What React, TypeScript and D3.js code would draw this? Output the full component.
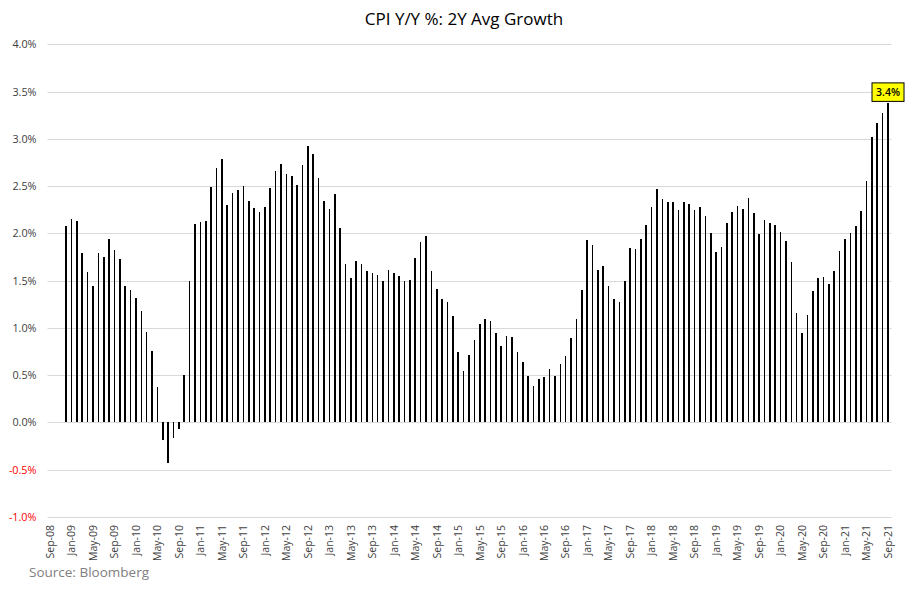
import { useMemo } from 'react';
import * as d3 from 'd3';

const WIDTH = 914;
const HEIGHT = 589;
const FONT = '"Open Sans", "Noto Sans", sans-serif';

// Monthly categories on the axis: Sep-08 .. Sep-21
const FIRST_MONTH = new Date(2008, 8, 1);
const LAST_MONTH = new Date(2021, 8, 1);

// First month with a value
const VALUES_START = new Date(2008, 11, 1);

// 2Y avg CPI Y/Y growth (%), Dec-08 .. Sep-21
const v2008 = [2.08];
const v2009 = [2.15, 2.13, 1.79, 1.59, 1.445, 1.79, 1.75, 1.94, 1.825, 1.73, 1.445, 1.4];
const v2010 = [1.32, 1.18, 0.96, 0.75, 0.37, -0.19, -0.43, -0.165, -0.07, 0.5, 1.49, 2.1];
const v2011 = [2.12, 2.125, 2.49, 2.69, 2.79, 2.3, 2.43, 2.46, 2.5, 2.34, 2.27, 2.23];
const v2012 = [2.28, 2.48, 2.66, 2.735, 2.63, 2.61, 2.51, 2.725, 2.925, 2.84, 2.58, 2.34];
const v2013 = [2.26, 2.42, 2.06, 1.68, 1.53, 1.71, 1.68, 1.6, 1.58, 1.56, 1.5, 1.61];
const v2014 = [1.58, 1.55, 1.49, 1.51, 1.74, 1.91, 1.97, 1.6, 1.41, 1.31, 1.275, 1.13];
const v2015 = [0.74, 0.545, 0.715, 0.87, 1.04, 1.095, 1.07, 0.94, 0.81, 0.915, 0.905, 0.74];
const v2016 = [0.64, 0.49, 0.385, 0.46, 0.48, 0.56, 0.49, 0.62, 0.7, 0.89, 1.095, 1.4];
const v2017 = [1.93, 1.88, 1.61, 1.655, 1.44, 1.31, 1.275, 1.5, 1.845, 1.835, 1.94, 2.09];
const v2018 = [2.28, 2.47, 2.36, 2.33, 2.33, 2.245, 2.33, 2.31, 2.245, 2.28, 2.18, 2.0];
const v2019 = [1.8, 1.855, 2.11, 2.225, 2.29, 2.26, 2.37, 2.21, 1.99, 2.14, 2.11, 2.09];
const v2020 = [2.01, 1.92, 1.7, 1.16, 0.95, 1.14, 1.39, 1.53, 1.54, 1.465, 1.6, 1.81];
const v2021 = [1.94, 2.0, 2.08, 2.24, 2.55, 3.02, 3.165, 3.27, 3.38];

const VALUES = [
  ...v2008, ...v2009, ...v2010, ...v2011, ...v2012, ...v2013, ...v2014,
  ...v2015, ...v2016, ...v2017, ...v2018, ...v2019, ...v2020, ...v2021,
];

const Y_TICKS = [-1, -0.5, 0, 0.5, 1, 1.5, 2, 2.5, 3, 3.5, 4];
const LAST_LABEL = '3.4%';

const fmtMonth = d3.timeFormat('%b-%y');

export default function App() {
  const months = useMemo(
    () => d3.timeMonth.range(FIRST_MONTH, d3.timeMonth.offset(LAST_MONTH, 1)).map(fmtMonth),
    []
  );

  const bars = useMemo(() => {
    const start = d3.timeMonth.range(VALUES_START, d3.timeMonth.offset(LAST_MONTH, 1));
    return start.map((d, i) => ({ month: fmtMonth(d), value: VALUES[i] }));
  }, []);

  const x = d3.scaleBand<string>().domain(months).range([47.3, 890.7]).padding(0);
  const y = d3.scaleLinear().domain([-1, 4]).range([516.8, 44.3]);

  const barW = 1.6;
  const last = bars[bars.length - 1];
  const lastX = x(last.month)! + x.bandwidth() / 2;
  const lastY = y(last.value);

  return (
    <svg
      width={WIDTH}
      height={HEIGHT}
      style={{ position: 'absolute', left: 0, top: 0, background: '#fff' }}
      fontFamily={FONT}
    >
      <rect x={0} y={0} width={WIDTH} height={HEIGHT} fill="#fff" />

      {/* Title */}
      <text x={464} y={25} textAnchor="middle" fontSize={17} fill="#000">
        CPI Y/Y %: 2Y Avg Growth
      </text>

      {/* Gridlines + y labels */}
      {Y_TICKS.map((t) => (
        <g key={t}>
          <line
            x1={47.5}
            x2={891.5}
            y1={Math.round(y(t)) + 0.5}
            y2={Math.round(y(t)) + 0.5}
            stroke="#d9d9d9"
            strokeWidth={1}
          />
          <text
            x={36.5}
            y={y(t) + 4}
            textAnchor="end"
            fontSize={10.8}
            fill={t < 0 ? '#ff0000' : '#404040'}
          >
            {t.toFixed(1)}%
          </text>
        </g>
      ))}

      {/* Bars */}
      {bars.map((d) => {
        const cx = x(d.month)! + x.bandwidth() / 2;
        const y0 = y(0);
        const y1 = y(d.value);
        return (
          <rect
            key={d.month}
            x={cx - barW / 2}
            y={Math.min(y0, y1)}
            width={barW}
            height={Math.abs(y1 - y0)}
            fill="#000"
            shapeRendering="crispEdges"
          />
        );
      })}

      {/* X labels every 4 months */}
      {months.map((m, i) =>
        i % 4 === 0 ? (
          <text
            key={m}
            transform={`translate(${x(m)! + x.bandwidth() / 2 + 3.8}, 525) rotate(-90)`}
            textAnchor="end"
            fontSize={10.5}
            fill="#404040"
          >
            {m}
          </text>
        ) : null
      )}

      {/* Last value callout */}
      <g>
        <rect
          x={lastX - 16}
          y={lastY - 20}
          width={32}
          height={18.5}
          fill="#ffff00"
          stroke="#000"
          strokeWidth={1}
        />
        <text
          x={lastX}
          y={lastY - 7}
          textAnchor="middle"
          fontSize={10.5}
          fontWeight={600}
          fill="#000"
        >
          {LAST_LABEL}
        </text>
      </g>

      {/* Source */}
      <text x={29} y={577} fontSize={13.5} fill="#808080">
        Source: Bloomberg
      </text>
    </svg>
  );
}
